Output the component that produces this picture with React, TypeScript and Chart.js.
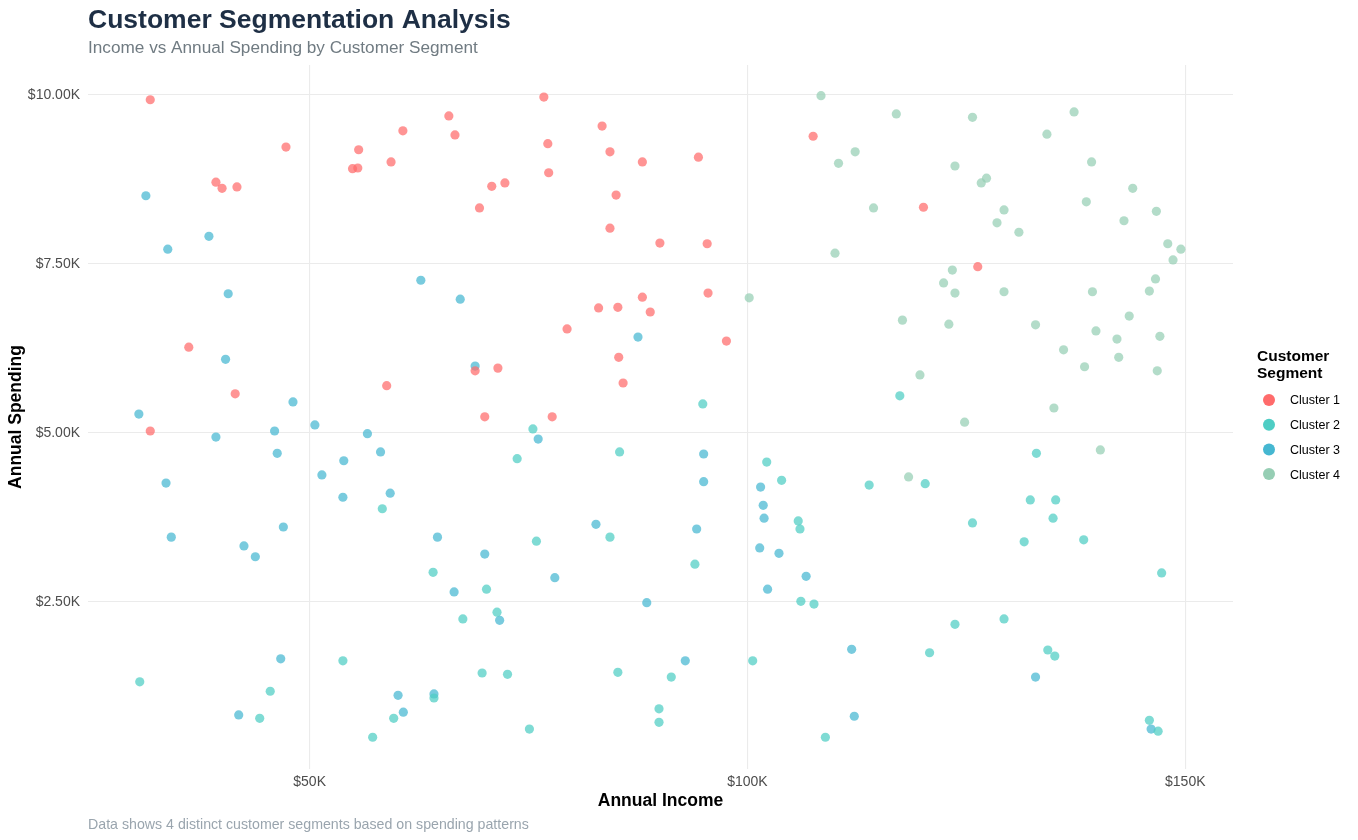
import React, { useEffect, useRef } from "react";
import { Chart, registerables } from "chart.js";

Chart.register(...registerables);

const chartTitle = "Customer Segmentation Analysis";
const chartSubtitle = "Income vs Annual Spending by Customer Segment";
const chartCaption = "Data shows 4 distinct customer segments based on spending patterns";
const xAxisTitle = "Annual Income";
const yAxisTitle = "Annual Spending";
const legendTitle = ["Customer", "Segment"];

const segmentNames = ["Cluster 1", "Cluster 2", "Cluster 3", "Cluster 4"];
const segmentColors = ["#FF6B6B", "#4ECDC4", "#45B7D1", "#96CEB4"];

const xTicks = [50, 100, 150];
const yTicks = [2.5, 5, 7.5, 10];

// income in $K, spending in $K
const cluster1Income = [31.8, 47.3, 39.3, 40.0, 41.7, 65.9, 60.65, 66.6, 55.6, 59.3, 54.9, 55.5, 69.4, 76.75, 83.4, 77.2, 84.3, 88.0, 94.4, 77.3, 70.8, 72.3, 85.0, 84.3, 90.0, 95.4, 107.5, 88.0, 95.5, 120.1, 126.3, 36.2, 41.5, 31.8, 68.9, 58.8, 70.0, 83.0, 85.2, 88.9, 79.4, 97.6, 85.3, 71.5, 85.8, 77.7];
const cluster1Spending = [9.93, 9.23, 8.71, 8.62, 8.64, 9.69, 9.47, 9.41, 9.19, 9.01, 8.91, 8.92, 8.33, 9.97, 9.54, 9.28, 9.16, 9.01, 9.08, 8.85, 8.65, 8.70, 8.52, 8.03, 7.81, 7.80, 9.39, 7.01, 7.07, 8.34, 7.46, 6.27, 5.58, 5.03, 5.92, 5.70, 5.24, 6.85, 6.86, 6.79, 6.54, 6.36, 6.12, 5.96, 5.74, 5.24];

const cluster2Income = [58.3, 94.9, 75.5, 73.7, 85.4, 102.2, 103.9, 113.9, 105.8, 106.0, 117.4, 133.0, 120.3, 132.3, 135.2, 125.7, 134.9, 64.1, 70.2, 67.5, 30.6, 45.5, 44.3, 53.8, 69.7, 64.2, 59.6, 57.2, 75.9, 84.3, 94.0, 71.4, 72.6, 85.2, 91.3, 89.9, 89.9, 75.1, 100.6, 106.1, 107.6, 108.9, 131.6, 138.4, 147.3, 123.7, 129.3, 120.8, 134.3, 135.1, 145.9, 146.9];
const cluster2Spending = [3.88, 5.43, 5.06, 4.62, 4.72, 4.57, 4.30, 4.23, 3.70, 3.58, 5.55, 4.70, 4.25, 4.01, 4.01, 3.67, 3.74, 2.94, 2.69, 2.25, 1.32, 1.18, 0.78, 1.63, 1.45, 1.08, 0.78, 0.50, 3.40, 3.46, 3.06, 2.35, 1.43, 1.46, 1.39, 0.92, 0.72, 0.62, 1.63, 2.51, 2.47, 0.50, 3.39, 3.42, 2.93, 2.17, 2.25, 1.75, 1.79, 1.70, 0.75, 0.59];

const cluster3Income = [31.3, 38.5, 33.8, 40.7, 62.7, 67.2, 40.4, 48.1, 30.5, 39.3, 46.0, 50.6, 46.3, 33.6, 68.9, 56.6, 58.1, 53.9, 51.4, 59.2, 53.8, 47.0, 87.5, 76.1, 95.0, 95.0, 101.5, 101.8, 101.9, 82.7, 94.2, 34.2, 42.5, 43.8, 64.6, 70.0, 66.5, 46.7, 41.9, 60.1, 64.2, 60.7, 78.0, 88.5, 71.7, 92.9, 101.4, 103.6, 106.7, 102.3, 111.9, 112.2, 132.9, 146.1];
const cluster3Spending = [8.51, 7.91, 7.72, 7.06, 7.26, 6.98, 6.09, 5.46, 5.28, 4.94, 5.03, 5.12, 4.70, 4.26, 5.99, 4.99, 4.72, 4.59, 4.38, 4.11, 4.05, 3.61, 6.42, 4.91, 4.69, 4.28, 4.20, 3.93, 3.74, 3.65, 3.58, 3.46, 3.33, 3.17, 3.46, 3.21, 2.65, 1.66, 0.83, 1.12, 1.14, 0.87, 2.86, 2.49, 2.23, 1.63, 3.30, 3.22, 2.88, 2.69, 1.80, 0.81, 1.39, 0.62];

const cluster4Income = [108.4, 112.3, 110.4, 114.4, 110.0, 100.2, 117.0, 125.7, 137.3, 134.2, 123.7, 127.3, 126.7, 139.3, 144.0, 129.3, 128.5, 131.0, 138.7, 143.0, 146.7, 148.0, 149.5, 148.6, 123.4, 122.4, 123.7, 129.3, 139.4, 146.6, 145.9, 143.6, 117.7, 123.0, 132.9, 139.8, 147.1, 142.2, 136.1, 142.4, 138.5, 146.8, 119.7, 135.0, 124.8, 140.3, 118.4];
const cluster4Spending = [9.99, 9.16, 8.99, 8.33, 7.66, 7.00, 9.72, 9.67, 9.75, 9.42, 8.95, 8.77, 8.70, 9.01, 8.62, 8.30, 8.11, 7.97, 8.42, 8.14, 8.28, 7.80, 7.72, 7.56, 7.41, 7.22, 7.07, 7.09, 7.09, 7.28, 7.10, 6.73, 6.67, 6.61, 6.60, 6.51, 6.43, 6.39, 6.23, 6.12, 5.98, 5.92, 5.86, 5.37, 5.16, 4.75, 4.35];

const incomeBySegment = [cluster1Income, cluster2Income, cluster3Income, cluster4Income];
const spendingBySegment = [cluster1Spending, cluster2Spending, cluster3Spending, cluster4Spending];

const FONT = '"Liberation Sans", Arial, Helvetica, sans-serif';

function withAlpha(hex: string, a: number) {
  const n = parseInt(hex.slice(1), 16);
  return `rgba(${(n >> 16) & 255},${(n >> 8) & 255},${n & 255},${a})`;
}

const decorPlugin = {
  id: "decor",
  afterDraw(chart: any) {
    const { ctx, chartArea } = chart;
    ctx.save();
    ctx.textAlign = "left";
    ctx.textBaseline = "alphabetic";
    ctx.fillStyle = "#1E2F45";
    ctx.font = `bold 26.5px ${FONT}`;
    ctx.fillText(chartTitle, chartArea.left, 28);
    ctx.fillStyle = "#707B82";
    ctx.font = `17.2px ${FONT}`;
    ctx.fillText(chartSubtitle, chartArea.left, 53);
    ctx.fillStyle = "#9AA5AE";
    ctx.font = `14.2px ${FONT}`;
    ctx.fillText(chartCaption, chartArea.left, 829);

    // legend
    const lx = chartArea.right + 24;
    ctx.fillStyle = "#000000";
    ctx.font = `bold 15.5px ${FONT}`;
    ctx.fillText(legendTitle[0], lx, 361);
    ctx.fillText(legendTitle[1], lx, 378);
    ctx.font = `12.5px ${FONT}`;
    ctx.textBaseline = "middle";
    segmentNames.forEach((name, i) => {
      const cy = 400 + i * 24.7;
      ctx.beginPath();
      ctx.arc(lx + 12, cy, 6, 0, Math.PI * 2);
      ctx.fillStyle = segmentColors[i];
      ctx.fill();
      ctx.fillStyle = "#000000";
      ctx.fillText(name, lx + 33, cy + 1);
    });
    ctx.restore();
  },
};

export default function App() {
  const canvasRef = useRef<HTMLCanvasElement | null>(null);

  useEffect(() => {
    if (!canvasRef.current) return;
    const datasets = segmentNames.map((name, i) => ({
      label: name,
      data: incomeBySegment[i].map((x, j) => ({ x, y: spendingBySegment[i][j] })),
      backgroundColor: withAlpha(segmentColors[i], 0.72),
      borderWidth: 0,
      pointRadius: 4.6,
      pointHoverRadius: 4.6,
    }));

    const chart = new Chart(canvasRef.current, {
      type: "scatter",
      data: { datasets },
      plugins: [decorPlugin],
      options: {
        animation: false,
        responsive: false,
        devicePixelRatio: 1,
        layout: { padding: { top: 65, right: 125, bottom: 26, left: 0 } },
        plugins: {
          legend: { display: false },
          tooltip: { enabled: false },
          title: { display: false },
        },
        scales: {
          x: {
            type: "linear",
            min: 24.69,
            max: 155.45,
            afterBuildTicks: (scale: any) => {
              scale.ticks = xTicks.map((v) => ({ value: v }));
            },
            afterFit: (scale: any) => {
              scale.height = 45;
            },
            grid: { color: "#EBEBEB", lineWidth: 1.1, drawTicks: false },
            border: { display: false },
            ticks: {
              padding: 5,
              color: "#4D4D4D",
              font: { family: FONT, size: 14 },
              callback: (v: any) => `$${v}K`,
            },
            title: {
              display: true,
              text: xAxisTitle,
              color: "#000000",
              font: { family: FONT, size: 17.5, weight: "bold" },
              padding: { top: 0, bottom: 2 },
            },
          },
          y: {
            type: "linear",
            min: 0.03,
            max: 10.444,
            afterBuildTicks: (scale: any) => {
              scale.ticks = yTicks.map((v) => ({ value: v }));
            },
            afterFit: (scale: any) => {
              scale.width = 88;
            },
            grid: { color: "#EBEBEB", lineWidth: 1.1, drawTicks: false },
            border: { display: false },
            ticks: {
              padding: 8,
              color: "#4D4D4D",
              font: { family: FONT, size: 14 },
              callback: (v: any) => `$${Number(v).toFixed(2)}K`,
            },
            title: {
              display: true,
              text: yAxisTitle,
              color: "#000000",
              font: { family: FONT, size: 17.5, weight: "bold" },
              padding: { top: 6, bottom: 0 },
            },
          },
        },
      },
    } as any);

    return () => chart.destroy();
  }, []);

  return (
    <div style={{ position: "fixed", left: 0, top: 0, width: 1358, height: 840, background: "#ffffff" }}>
      <canvas ref={canvasRef} width={1358} height={840} style={{ width: 1358, height: 840, display: "block" }} />
    </div>
  );
}
